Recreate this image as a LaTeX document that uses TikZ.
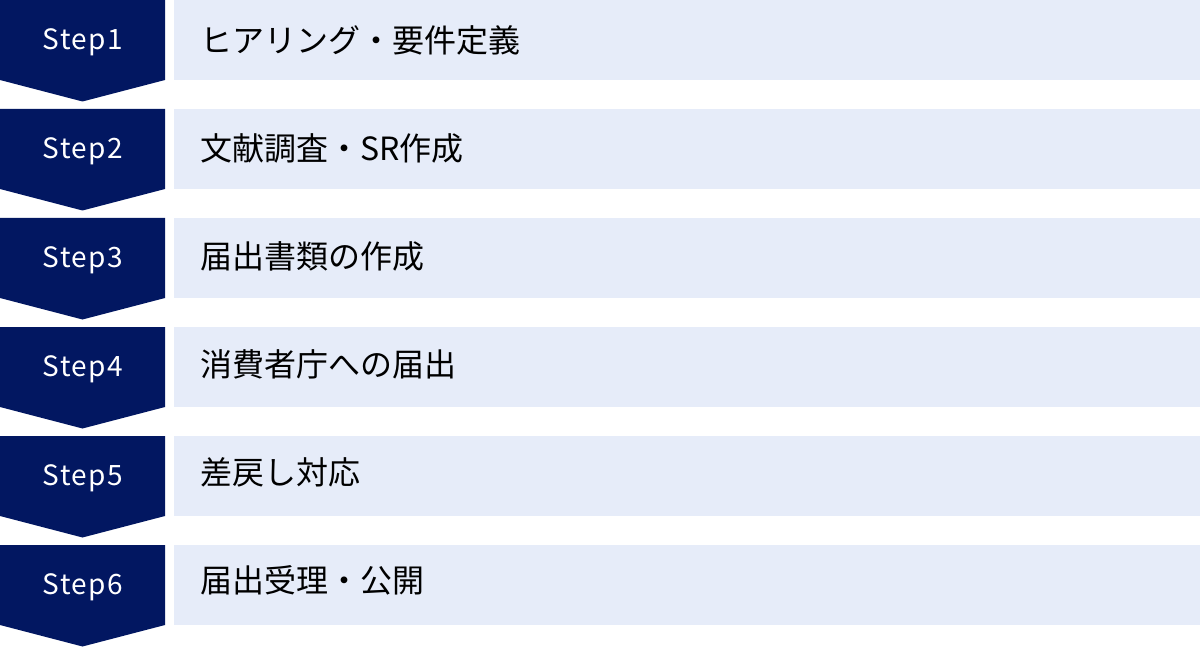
\documentclass[tikz,border=0pt]{standalone}
\usepackage{fontspec}
\setmainfont{Noto Sans CJK JP}
\newfontfamily\stepfont[LetterSpace=5]{Noto Sans CJK JP}
\definecolor{stepnavy}{HTML}{021761}
\definecolor{rowblue}{HTML}{E6ECF9}
\tikzset{
  steplabel/.style={text=white, font=\stepfont\fontsize{28}{32}\selectfont},
  tasklabel/.style={anchor=west, text=black, inner sep=0pt, font=\fontsize{32}{36}\selectfont}
}
\begin{document}
\begin{tikzpicture}[x=1pt,y=-1pt]
\useasboundingbox (0,0) rectangle (1200,647);
\foreach \i/\txt in {1/{ヒアリング・要件定義},2/{文献調査・SR作成},3/{届出書類の作成},
  4/{消費者庁への届出},5/{差戻し対応},6/{届出受理・公開}} {
  \pgfmathsetmacro{\y}{(\i-1)*109}
  \pgfmathsetmacro{\ty}{40+(\i-1)*108}
  \fill[stepnavy] (0,\y) -- (165,\y) -- (165,\y+80) -- (82.5,\y+101.5) -- (0,\y+80) -- cycle;
  \fill[rowblue] (174,\y) rectangle (1200,\y+80);
  \node[steplabel] (step\i) at (83,\y+42) {Step\i};
  \node[tasklabel] (task\i) at (200,\ty) {\txt};
}
\end{tikzpicture}
\end{document}
